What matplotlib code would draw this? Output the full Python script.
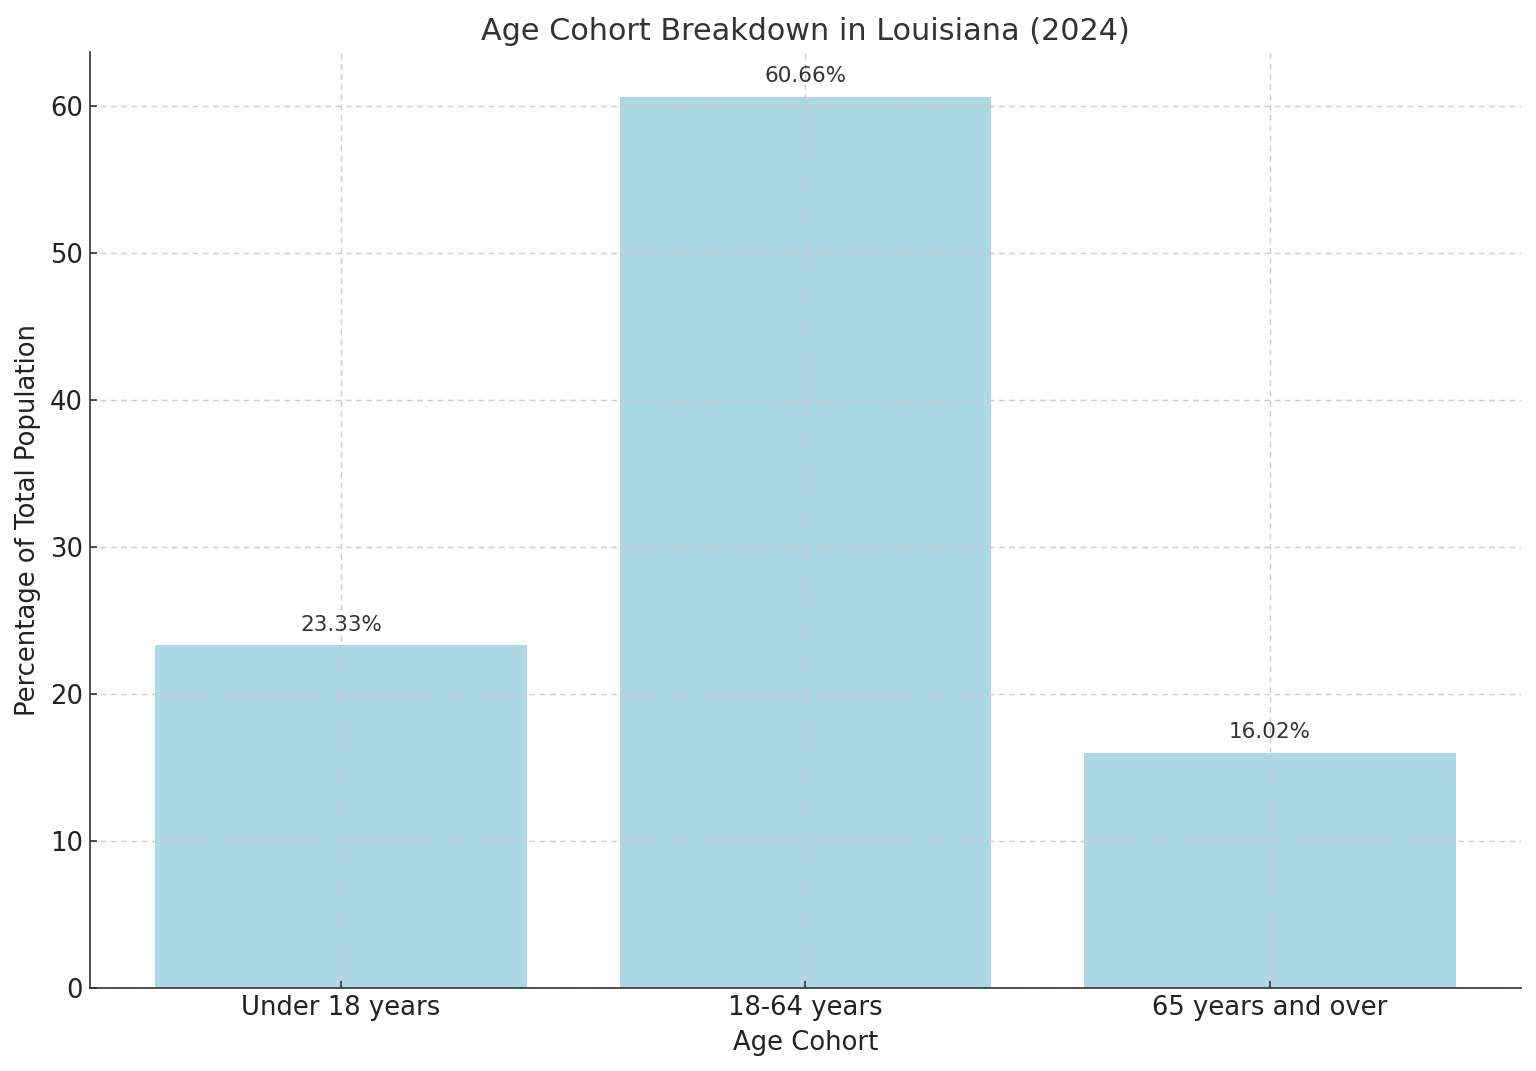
import matplotlib
matplotlib.use("Agg")
import matplotlib.pyplot as plt

# Data
cohorts = ["Under 18 years", "18-64 years", "65 years and over"]
shares = [23.33, 60.66, 16.02]

fig, ax = plt.subplots(figsize=(10.24, 7.14), dpi=150)
fig.subplots_adjust(left=0.0586, right=0.990, top=0.9514, bottom=0.0775)

bars = ax.bar(cohorts, shares, color="lightblue", width=0.8)

# Value labels on top of bars
for b, v in zip(bars, shares):
    ax.annotate(f"{v:.2f}%", (b.get_x() + b.get_width() / 2, b.get_height()),
                xytext=(0, 5), textcoords="offset points",
                ha="center", va="bottom", fontsize=10.3, color="#333333")

ax.set_title("Age Cohort Breakdown in Louisiana (2024)", fontsize=14.5, color="#333333")
ax.set_xlabel("Age Cohort", fontsize=12.4, color="#222222")
ax.set_ylabel("Percentage of Total Population", fontsize=12.4, color="#222222")
ax.tick_params(labelsize=12.4, direction="in", colors="#333333", labelcolor="#222222")
ax.grid(True, linestyle=(0, (4, 3)), color="#cccccc", linewidth=0.7)
ax.set_axisbelow(False)
for s in ["top", "right"]:
    ax.spines[s].set_visible(False)
for s in ["left", "bottom"]:
    ax.spines[s].set_color("#333333")
    ax.spines[s].set_zorder(3)

fig.savefig("out.png", dpi=150)
